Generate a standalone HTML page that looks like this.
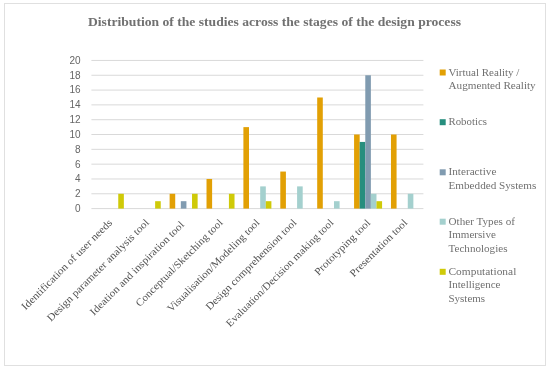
<!DOCTYPE html>
<html><head><meta charset="utf-8"><title>Chart</title>
<style>html,body{margin:0;padding:0;background:#fff;} svg{display:block;}</style>
</head><body>
<svg width="550" height="370" viewBox="0 0 550 370">
<rect x="4.5" y="3.5" width="541" height="362" fill="#fff" stroke="#e0e0e0" stroke-width="1"/>
<text x="274.5" y="25.7" text-anchor="middle" font-family='"Liberation Serif", serif' font-weight="bold" font-size="13.2" textLength="373" lengthAdjust="spacingAndGlyphs" fill="#717171">Distribution of the studies across the stages of the design process</text>
<line x1="91.40" x2="423.41" y1="208.60" y2="208.60" stroke="#d9d9d9" stroke-width="1"/>
<text class="yl" x="80.6" y="212.00" text-anchor="end" font-family='"Liberation Sans", sans-serif' font-size="10" fill="#666666">0</text>
<line x1="91.40" x2="423.41" y1="193.78" y2="193.78" stroke="#d9d9d9" stroke-width="1"/>
<text class="yl" x="80.6" y="197.19" text-anchor="end" font-family='"Liberation Sans", sans-serif' font-size="10" fill="#666666">2</text>
<line x1="91.40" x2="423.41" y1="178.97" y2="178.97" stroke="#d9d9d9" stroke-width="1"/>
<text class="yl" x="80.6" y="182.37" text-anchor="end" font-family='"Liberation Sans", sans-serif' font-size="10" fill="#666666">4</text>
<line x1="91.40" x2="423.41" y1="164.16" y2="164.16" stroke="#d9d9d9" stroke-width="1"/>
<text class="yl" x="80.6" y="167.56" text-anchor="end" font-family='"Liberation Sans", sans-serif' font-size="10" fill="#666666">6</text>
<line x1="91.40" x2="423.41" y1="149.34" y2="149.34" stroke="#d9d9d9" stroke-width="1"/>
<text class="yl" x="80.6" y="152.74" text-anchor="end" font-family='"Liberation Sans", sans-serif' font-size="10" fill="#666666">8</text>
<line x1="91.40" x2="423.41" y1="134.52" y2="134.52" stroke="#d9d9d9" stroke-width="1"/>
<text class="yl" x="80.6" y="137.92" text-anchor="end" font-family='"Liberation Sans", sans-serif' font-size="10" fill="#666666">10</text>
<line x1="91.40" x2="423.41" y1="119.71" y2="119.71" stroke="#d9d9d9" stroke-width="1"/>
<text class="yl" x="80.6" y="123.11" text-anchor="end" font-family='"Liberation Sans", sans-serif' font-size="10" fill="#666666">12</text>
<line x1="91.40" x2="423.41" y1="104.89" y2="104.89" stroke="#d9d9d9" stroke-width="1"/>
<text class="yl" x="80.6" y="108.30" text-anchor="end" font-family='"Liberation Sans", sans-serif' font-size="10" fill="#666666">14</text>
<line x1="91.40" x2="423.41" y1="90.08" y2="90.08" stroke="#d9d9d9" stroke-width="1"/>
<text class="yl" x="80.6" y="93.48" text-anchor="end" font-family='"Liberation Sans", sans-serif' font-size="10" fill="#666666">16</text>
<line x1="91.40" x2="423.41" y1="75.26" y2="75.26" stroke="#d9d9d9" stroke-width="1"/>
<text class="yl" x="80.6" y="78.66" text-anchor="end" font-family='"Liberation Sans", sans-serif' font-size="10" fill="#666666">18</text>
<line x1="91.40" x2="423.41" y1="60.45" y2="60.45" stroke="#d9d9d9" stroke-width="1"/>
<text class="yl" x="80.6" y="63.85" text-anchor="end" font-family='"Liberation Sans", sans-serif' font-size="10" fill="#666666">20</text>
<rect x="118.25" y="193.78" width="5.60" height="14.81" fill="#CFCA08"/>
<rect x="155.14" y="201.19" width="5.60" height="7.41" fill="#CFCA08"/>
<rect x="169.62" y="193.78" width="5.60" height="14.81" fill="#E2A004"/>
<rect x="180.82" y="201.19" width="5.60" height="7.41" fill="#809BB0"/>
<rect x="192.03" y="193.78" width="5.60" height="14.81" fill="#CFCA08"/>
<rect x="206.52" y="178.97" width="5.60" height="29.63" fill="#E2A004"/>
<rect x="228.92" y="193.78" width="5.60" height="14.81" fill="#CFCA08"/>
<rect x="243.40" y="127.12" width="5.60" height="81.48" fill="#E2A004"/>
<rect x="260.20" y="186.38" width="5.60" height="22.22" fill="#A4D0CE"/>
<rect x="265.80" y="201.19" width="5.60" height="7.41" fill="#CFCA08"/>
<rect x="280.30" y="171.56" width="5.60" height="37.04" fill="#E2A004"/>
<rect x="297.10" y="186.38" width="5.60" height="22.22" fill="#A4D0CE"/>
<rect x="317.19" y="97.49" width="5.60" height="111.11" fill="#E2A004"/>
<rect x="333.99" y="201.19" width="5.60" height="7.41" fill="#A4D0CE"/>
<rect x="354.08" y="134.52" width="5.60" height="74.08" fill="#E2A004"/>
<rect x="359.68" y="141.93" width="5.60" height="66.67" fill="#278E7E"/>
<rect x="365.28" y="75.26" width="5.60" height="133.34" fill="#809BB0"/>
<rect x="370.88" y="193.78" width="5.60" height="14.81" fill="#A4D0CE"/>
<rect x="376.48" y="201.19" width="5.60" height="7.41" fill="#CFCA08"/>
<rect x="390.97" y="134.52" width="5.60" height="74.08" fill="#E2A004"/>
<rect x="407.77" y="193.78" width="5.60" height="14.81" fill="#A4D0CE"/>
<text class="xl" transform="translate(112.75,223.40) rotate(-45)" text-anchor="end" textLength="123.3" lengthAdjust="spacingAndGlyphs" font-family='"Liberation Serif", serif' font-size="10.5" fill="#535353">Identification of user needs</text>
<text class="xl" transform="translate(149.64,223.40) rotate(-45)" text-anchor="end" textLength="139.6" lengthAdjust="spacingAndGlyphs" font-family='"Liberation Serif", serif' font-size="10.5" fill="#535353">Design parameter analysis tool</text>
<text class="xl" transform="translate(184.62,225.40) rotate(-45)" text-anchor="end" textLength="128.2" lengthAdjust="spacingAndGlyphs" font-family='"Liberation Serif", serif' font-size="10.5" fill="#535353">Ideation and inspiration tool</text>
<text class="xl" transform="translate(223.42,223.40) rotate(-45)" text-anchor="end" textLength="118.5" lengthAdjust="spacingAndGlyphs" font-family='"Liberation Serif", serif' font-size="10.5" fill="#535353">Conceptual/Sketching tool</text>
<text class="xl" transform="translate(260.30,223.40) rotate(-45)" text-anchor="end" textLength="126.0" lengthAdjust="spacingAndGlyphs" font-family='"Liberation Serif", serif' font-size="10.5" fill="#535353">Visualisation/Modeling tool</text>
<text class="xl" transform="translate(297.19,223.40) rotate(-45)" text-anchor="end" textLength="123.7" lengthAdjust="spacingAndGlyphs" font-family='"Liberation Serif", serif' font-size="10.5" fill="#535353">Design comprehension tool</text>
<text class="xl" transform="translate(334.08,223.40) rotate(-45)" text-anchor="end" textLength="147.1" lengthAdjust="spacingAndGlyphs" font-family='"Liberation Serif", serif' font-size="10.5" fill="#535353">Evaluation/Decision making tool</text>
<text class="xl" transform="translate(370.98,223.40) rotate(-45)" text-anchor="end" textLength="74.4" lengthAdjust="spacingAndGlyphs" font-family='"Liberation Serif", serif' font-size="10.5" fill="#535353">Prototyping tool</text>
<text class="xl" transform="translate(407.87,223.40) rotate(-45)" text-anchor="end" textLength="76.4" lengthAdjust="spacingAndGlyphs" font-family='"Liberation Serif", serif' font-size="10.5" fill="#535353">Presentation tool</text>
<rect x="439.7" y="69.50" width="6" height="6" fill="#E2A004"/>
<text class="lg" x="448.5" y="75.60" textLength="70.9" lengthAdjust="spacingAndGlyphs" font-family='"Liberation Serif", serif' font-size="10.9" fill="#707070">Virtual Reality /</text>
<text class="lg" x="448.5" y="88.95" textLength="87.2" lengthAdjust="spacingAndGlyphs" font-family='"Liberation Serif", serif' font-size="10.9" fill="#707070">Augmented Reality</text>
<rect x="439.7" y="119.20" width="6" height="6" fill="#278E7E"/>
<text class="lg" x="448.5" y="125.30" textLength="38.4" lengthAdjust="spacingAndGlyphs" font-family='"Liberation Serif", serif' font-size="10.9" fill="#707070">Robotics</text>
<rect x="439.7" y="169.30" width="6" height="6" fill="#809BB0"/>
<text class="lg" x="448.5" y="175.40" textLength="47.9" lengthAdjust="spacingAndGlyphs" font-family='"Liberation Serif", serif' font-size="10.9" fill="#707070">Interactive</text>
<text class="lg" x="448.5" y="188.75" textLength="87.8" lengthAdjust="spacingAndGlyphs" font-family='"Liberation Serif", serif' font-size="10.9" fill="#707070">Embedded Systems</text>
<rect x="439.7" y="218.70" width="6" height="6" fill="#A4D0CE"/>
<text class="lg" x="448.5" y="224.80" textLength="66.5" lengthAdjust="spacingAndGlyphs" font-family='"Liberation Serif", serif' font-size="10.9" fill="#707070">Other Types of</text>
<text class="lg" x="448.5" y="238.15" textLength="47.4" lengthAdjust="spacingAndGlyphs" font-family='"Liberation Serif", serif' font-size="10.9" fill="#707070">Immersive</text>
<text class="lg" x="448.5" y="251.50" textLength="59.0" lengthAdjust="spacingAndGlyphs" font-family='"Liberation Serif", serif' font-size="10.9" fill="#707070">Technologies</text>
<rect x="439.7" y="268.80" width="6" height="6" fill="#CFCA08"/>
<text class="lg" x="448.5" y="274.90" textLength="67.8" lengthAdjust="spacingAndGlyphs" font-family='"Liberation Serif", serif' font-size="10.9" fill="#707070">Computational</text>
<text class="lg" x="448.5" y="288.25" textLength="52.0" lengthAdjust="spacingAndGlyphs" font-family='"Liberation Serif", serif' font-size="10.9" fill="#707070">Intelligence</text>
<text class="lg" x="448.5" y="301.60" textLength="36.6" lengthAdjust="spacingAndGlyphs" font-family='"Liberation Serif", serif' font-size="10.9" fill="#707070">Systems</text>
</svg>
</body></html>
